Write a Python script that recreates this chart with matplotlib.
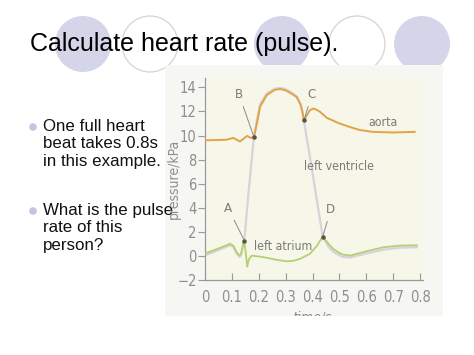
import numpy as np
import matplotlib.pyplot as plt
from matplotlib.patches import Circle, Rectangle

# data (time in s, pressure in kPa)
t_aorta = [0, 0.04, 0.08, 0.105, 0.13, 0.157, 0.17, 0.182, 0.195, 0.205, 0.23,
           0.26, 0.28, 0.30, 0.32, 0.341, 0.355, 0.362, 0.368, 0.39, 0.405,
           0.428, 0.453, 0.50, 0.54, 0.577, 0.626, 0.70, 0.78]
p_aorta = [9.6, 9.62, 9.65, 9.8, 9.5, 9.97, 9.8, 9.86, 11.2, 12.4, 13.36,
           13.8, 13.86, 13.75, 13.5, 13.2, 12.6, 12.0, 11.25, 12.1, 12.25,
           11.97, 11.47, 11.0, 10.7, 10.45, 10.3, 10.25, 10.3]

t_ventricle = [0, 0.03, 0.062, 0.093, 0.105, 0.118, 0.128, 0.134, 0.142, 0.146,
               0.163, 0.182, 0.195, 0.205, 0.23, 0.26, 0.28, 0.30, 0.32, 0.341,
               0.355, 0.362, 0.368, 0.40, 0.438, 0.46, 0.477, 0.50, 0.515, 0.54,
               0.60, 0.664, 0.726, 0.788]
p_ventricle = [0.05, 0.3, 0.6, 0.88, 0.75, 0.2, -0.08, 0.05, 0.85, 1.2,
               5.5, 9.86, 11.5, 12.6, 13.5, 13.9, 13.95, 13.85, 13.6, 13.25,
               12.65, 12.05, 11.25, 6.9, 1.6, 0.75, 0.35, 0.05, -0.1, -0.12,
               0.2, 0.52, 0.68, 0.72]

t_atrium = [0, 0.03, 0.062, 0.093, 0.105, 0.118, 0.128, 0.134, 0.142, 0.146,
            0.152, 0.157, 0.163, 0.174, 0.205, 0.24, 0.267, 0.304, 0.33, 0.353,
            0.39, 0.415, 0.438, 0.46, 0.477, 0.50, 0.515, 0.54, 0.60, 0.664,
            0.726, 0.788]
p_atrium = [0.2, 0.45, 0.72, 1.0, 0.86, 0.3, 0.03, 0.17, 1.0, 1.28,
            0.2, -0.89, -0.3, 0.02, -0.06, -0.2, -0.33, -0.45, -0.4, -0.25,
            0.17, 0.8, 1.6, 1.0, 0.58, 0.25, 0.1, 0.03, 0.38, 0.72,
            0.86, 0.88]

# valve points A-D and where their letters sit
point_names = ['A', 'B', 'C', 'D']
point_t = [0.146, 0.182, 0.368, 0.438]
point_p = [1.28, 9.86, 11.25, 1.6]
letter_t = [0.087, 0.127, 0.397, 0.468]
letter_p = [3.95, 13.4, 13.4, 3.85]

xticks = [0, 0.1, 0.2, 0.3, 0.4, 0.5, 0.6, 0.7, 0.8]
yticks = [-2, 0, 2, 4, 6, 8, 10, 12, 14]

title = 'Calculate heart rate (pulse).'
bullets = ['One full heart\nbeat takes 0.8s\nin this example.',
           'What is the pulse\nrate of this\nperson?']

W, H = 474, 355
fig = plt.figure(figsize=(W / 100, H / 100), dpi=100)
fig.patch.set_facecolor('white')

# slide background in pixel coordinates
bg = fig.add_axes([0, 0, 1, 1], zorder=0)
bg.set_xlim(0, W)
bg.set_ylim(H, 0)
bg.axis('off')

lav = '#d5d5ea'
for cx, filled in [(83, True), (150, False), (282, True), (357, False), (422, True)]:
    if filled:
        bg.add_patch(Circle((cx, 44), 28, facecolor=lav, edgecolor='none', zorder=1))
    else:
        bg.add_patch(Circle((cx, 44), 28, facecolor='white', edgecolor='#d4d4d4',
                            lw=0.9, zorder=1))

bg.add_patch(Rectangle((165, 65), 278, 251, facecolor='#f6f6f2', edgecolor='none', zorder=2))

bg.text(30, 44, title, fontsize=18, family='Liberation Sans', color='black',
        va='center', ha='left', zorder=3)

for yb, txt in zip([127, 211], bullets):
    bg.add_patch(Circle((33, yb), 3.8, facecolor='#c4c4e2', edgecolor='none', zorder=3))
    bg.text(43, yb - 8, txt, fontsize=12.2, family='Liberation Sans', color='#111111',
            va='top', ha='left', linespacing=1.2, zorder=3)

# the chart itself
ax = fig.add_axes([205 / W, (H - 280) / H, 217.7 / W, 202.3 / H], zorder=1)
ax.set_facecolor('#f6f7e9')
ax.set_xlim(0, 0.81)
ax.set_ylim(-2, 14.8)

ax.plot(t_ventricle, p_ventricle, color='#d9d2dc', lw=1.6, zorder=2)
ax.plot(t_atrium, p_atrium, color='#b5cf72', lw=1.3, zorder=3)
ax.plot(t_aorta, p_aorta, color='#e2a348', lw=1.4, zorder=3)
ax.scatter(point_t, point_p, s=5, color='#555544', zorder=4)

grey = '#7a7a7a'
fnt = dict(family='DejaVu Sans', stretch='condensed')
for name, pt, pp, lt, lp in zip(point_names, point_t, point_p, letter_t, letter_p):
    ax.annotate(name, xy=(pt, pp), xytext=(lt, lp), ha='center', va='center',
                fontsize=9.5, color=grey, **fnt,
                arrowprops=dict(arrowstyle='-', color='#8a8a8a', lw=0.7,
                                shrinkA=2, shrinkB=1))

ax.text(0.664, 11.05, 'aorta', fontsize=8.8, color=grey, ha='center', va='center', **fnt)
ax.text(0.50, 7.45, 'left ventricle', fontsize=8.8, color=grey, ha='center', va='center', **fnt)
ax.text(0.289, 0.75, 'left atrium', fontsize=8.8, color=grey, ha='center', va='center', **fnt)

for s in ['top', 'right']:
    ax.spines[s].set_visible(False)
for s in ['left', 'bottom']:
    ax.spines[s].set_color('#9a9a9a')
    ax.spines[s].set_linewidth(0.9)

ax.set_xticks(xticks)
ax.set_xticklabels([f'{v:g}' for v in xticks])
ax.set_yticks(yticks)
ax.tick_params(axis='x', direction='in', length=5, width=0.8, color='#9a9a9a',
               pad=7.5, labelsize=10.5, labelcolor='#8e8e8e')
ax.tick_params(axis='y', direction='out', length=5, width=0.8, color='#9a9a9a',
               pad=1, labelsize=10.5, labelcolor='#8e8e8e')
for lab in ax.get_xticklabels() + ax.get_yticklabels():
    lab.set_family('DejaVu Sans')
    lab.set_stretch('condensed')

ax.set_ylabel('pressure/kPa', fontsize=10, color='#8e8e8e', **fnt)
ax.yaxis.set_label_coords(-0.11, 0.5)
ax.set_xlabel('time/s', fontsize=10, color='#8e8e8e', **fnt)
ax.xaxis.set_label_coords(0.496, -0.15)

# the panel edge cuts the bottom of the x label
fig.patches.append(Rectangle((150 / W, 0), 300 / W, (H - 316) / H, transform=fig.transFigure,
                             facecolor='white', edgecolor='none', zorder=5))

fig.savefig('out.png', dpi=100)
